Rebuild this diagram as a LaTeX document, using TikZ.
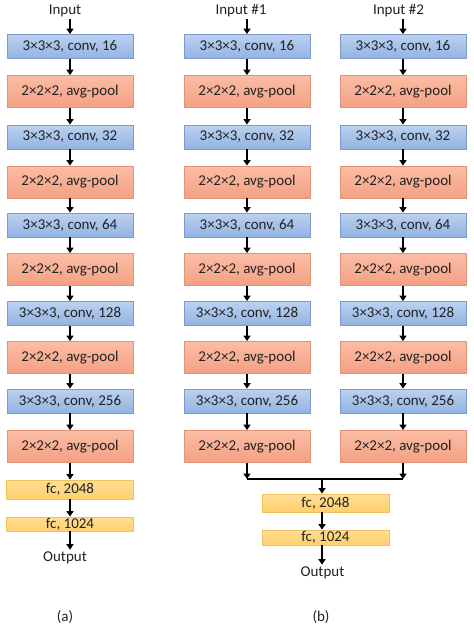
\documentclass[tikz,border=0pt]{standalone}
\usepackage{fontspec}
\setmainfont{Carlito}
\usetikzlibrary{arrows.meta,calc}
\definecolor{convt}{HTML}{BBD1F0}
\definecolor{convbt}{HTML}{92B3E2}
\definecolor{convb}{HTML}{7C9ACB}
\definecolor{poolt}{HTML}{FBBDA5}
\definecolor{poolbt}{HTML}{F4A083}
\definecolor{poolb}{HTML}{DE9478}
\definecolor{fct}{HTML}{FFDE94}
\definecolor{fcbt}{HTML}{FFCF6C}
\definecolor{fcb}{HTML}{EDC060}
\definecolor{txt}{HTML}{222222}
\begin{document}
\begin{tikzpicture}[x=1pt,y=-1pt,
  font=\fontsize{15}{18}\selectfont, text=txt,
  blk/.style={line width=0.8pt, minimum width=126pt, inner sep=0pt, anchor=center},
  conv/.style={blk, minimum height=24pt, draw=convb, top color=convt, bottom color=convbt},
  pool/.style={blk, minimum height=32pt, draw=poolb, top color=poolt, bottom color=poolbt},
  fc/.style={blk, minimum width=127pt, draw=fcb, top color=fct, bottom color=fcbt},
  lbl/.style={inner sep=2pt},
  arr/.style={line width=2pt, -{Triangle[width=7pt,length=5.5pt]}},
]
\useasboundingbox (0,0) rectangle (474,630);

\foreach \col/\cx in {a/70, l/247, r/403} {
  \foreach \i/\cy/\py/\n in {1/46.5/91.5/16, 2/137/182/32, 3/225/269.5/64, 4/313.5/357.5/128, 5/401/446.5/256} {
    \node[conv] (\col c\i) at (\cx,\cy) {3×3×3, conv, \n};
    \node[pool] (\col p\i) at (\cx,\py) {2×2×2, avg-pool};
    \draw[arr] (\col c\i) -- (\col p\i);
  }
  \foreach \i [evaluate=\i as \j using int(\i+1)] in {1,...,4}
    \draw[arr] (\col p\i) -- (\col c\j);
}

% inputs
\node[lbl] (ina) at (65,11) {Input};
\node[lbl] (inl) at (241,11) {Input \#1};
\node[lbl] (inr) at (398.5,11) {Input \#2};
\draw[arr] (ac1.north |- ina.south) -- (ac1.north);
\draw[arr] (lc1.north |- inl.south) -- (lc1.north);
\draw[arr] (rc1.north |- inr.south) -- (rc1.north);

% (a) head
\node[fc, minimum height=19pt] (af1) at (70,489.5) {fc, 2048};
\node[fc, minimum height=14pt] (af2) at (70,524) {fc, 1024};
\node[lbl] (outa) at (65,558) {Output};
\draw[arr] (ap5) -- (af1);
\draw[arr] (af1) -- (af2);
\draw[arr] (af2.south) -- (af2.south |- outa.north);

% (b) head
\coordinate (bar) at (322,479);
\draw[arr] (lp5) -- (lp5 |- bar);
\draw[arr] (rp5) -- (rp5 |- bar);
\draw[line width=2.4pt] (lp5.south |- bar) -- (rp5.south |- bar);
\node[fc, minimum height=18pt] (bf1) at (325.5,503) {fc, 2048};
\node[fc, minimum height=15pt] (bf2) at (325.5,537.5) {fc, 1024};
\node[lbl] (outb) at (322.5,573) {Output};
\draw[arr] (bar) -- (bar |- bf1.north);
\draw[arr] (bf1.south -| bar) -- (bf2.north -| bar);
\draw[arr] (bf2.south -| bar) -- (bar |- outb.north);

% captions
\node[lbl] (capa) at (65,617) {(a)};
\node[lbl] (capb) at (321,617) {(b)};
\end{tikzpicture}
\end{document}
